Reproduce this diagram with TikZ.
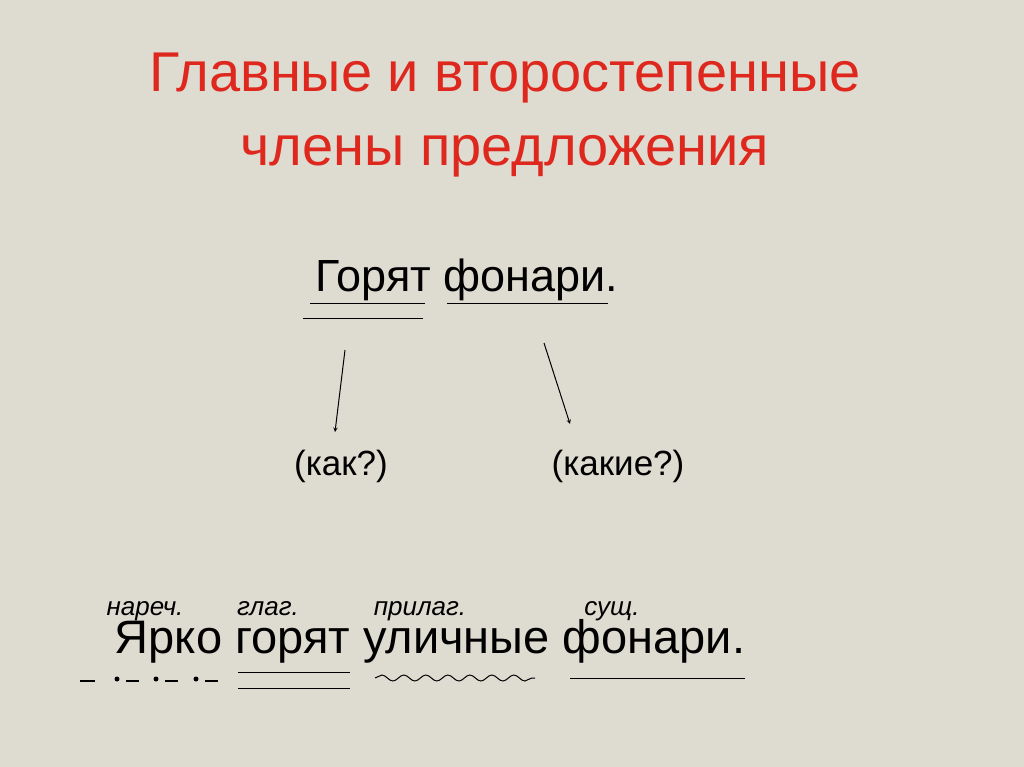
\documentclass[tikz,border=0pt]{standalone}
\usepackage{fontspec}
\setmainfont{Liberation Sans}
\usetikzlibrary{decorations.pathmorphing}
\definecolor{bg}{RGB}{222,219,209}
\definecolor{tred}{RGB}{222,40,30}
\tikzset{ln/.style={line width=1pt,black}, arr/.style={line width=1pt,-stealth},
 lbl/.style={font=\fontsize{26}{30}\selectfont\itshape,anchor=base},
 q/.style={font=\fontsize{35}{40}\selectfont}}
\begin{document}
\begin{tikzpicture}[x=1pt,y=-1pt]
\fill[bg] (0,0) rectangle (1024,767);
\useasboundingbox (0,0) rectangle (1024,767);
\node[tred,font=\fontsize{56}{74}\selectfont,align=center] (title) at (505,115) {Главные и второстепенные\\члены предложения};
\node[font=\fontsize{45}{50}\selectfont] (s1) at (467,280) {Горят фонари.};
\draw[ln] (310,303) -- (425,303); \draw[ln] (303,318) -- (423,318);
\draw[ln] (447,303) -- (608,303);
\node[q] (kak) at (341,466) {(как?)};
\node[q] (kakie) at (618,466) {(какие?)};
\coordinate (a1) at (345,350); \coordinate (a2) at (544,343);
\draw[arr] (a1) -- (335,432);
\draw[arr] (a2) -- (570,424);
\node[lbl] (n1) at (145,615) {нареч.};
\node[lbl] (n2) at (268,615) {глаг.};
\node[lbl] (n3) at (420,615) {прилаг.};
\node[lbl] (n4) at (612,615) {сущ.};
\node[font=\fontsize{47}{50}\selectfont] (s2) at (430,641) {Ярко горят уличные фонари.};
\draw[line width=1.5pt] (80,681) -- (95,681);
\foreach \x in {117,156,196}{\fill (\x,679) circle (2.5); \draw[line width=1.5pt] (\x+9,681) -- (\x+22,681);}
\draw[ln] (238,672) -- (350,672); \draw[ln] (238,688) -- (350,688);
\draw[ln,decorate,decoration={snake,amplitude=3,segment length=22}] (375,678) -- (535,678);
\draw[ln] (570,678) -- (745,678);
\end{tikzpicture}
\end{document}
